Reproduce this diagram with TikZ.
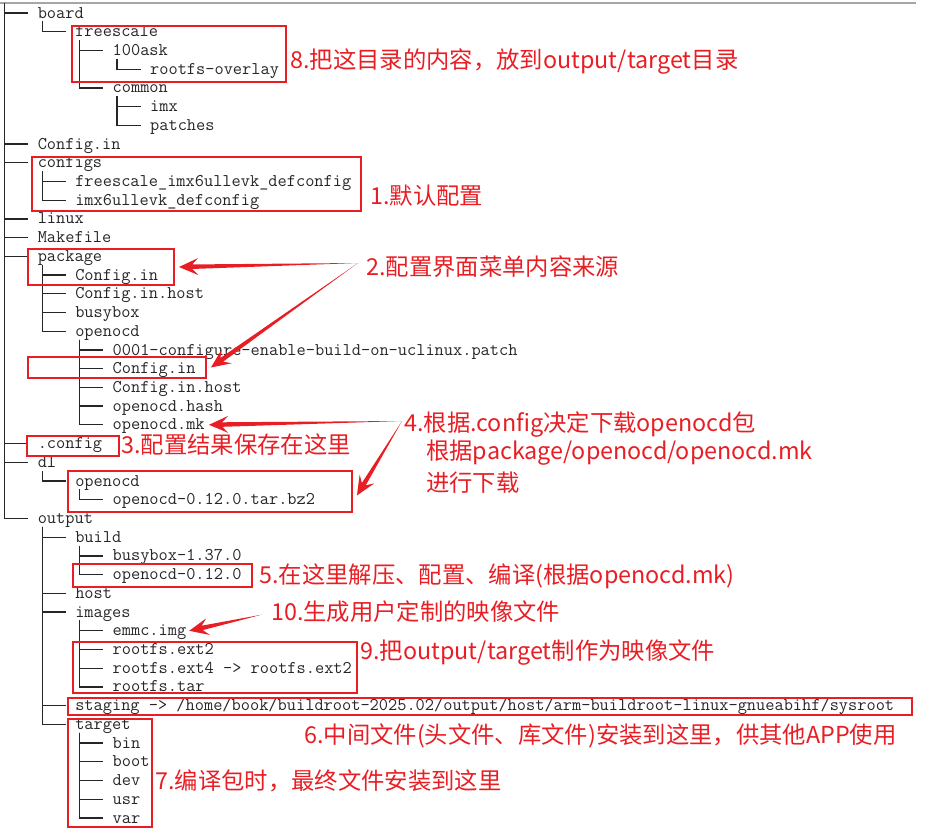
\documentclass[tikz,border=0pt]{standalone}
\usepackage{fontspec}
\newfontfamily\cjkfont{Noto Sans CJK SC}
\usetikzlibrary{calc, fit}
\definecolor{notered}{RGB}{232,30,36}

% tapered red arrow, thin at #1, head at #2
\newcommand{\swoosh}[2]{%
  \path (#1) coordinate (sw-a) (#2) coordinate (sw-b);
  \path ($(sw-b)!10pt!(sw-a)$) coordinate (sw-n) ($(sw-b)!14.5pt!(sw-a)$) coordinate (sw-w);
  \fill[fill=notered] (sw-a) -- ($(sw-n)!1.7pt!90:(sw-a)$) -- ($(sw-w)!6.4pt!90:(sw-a)$) -- (sw-b)
    -- ($(sw-w)!6.4pt!-90:(sw-a)$) -- ($(sw-n)!1.7pt!-90:(sw-a)$) -- cycle;}

\begin{document}
\begin{tikzpicture}[x=0.75pt,y=-0.75pt,
  entry/.style={anchor=base west,inner sep=0pt,text height=7.5pt,text depth=0pt,
    font=\fontsize{13.4}{14}\selectfont\ttfamily,text=black!85},
  branch/.style={line width=1pt,black!85},
  redbox/.style={draw=notered,line width=1.4pt,inner sep=0pt},
  annot/.style={anchor=west,inner sep=0pt,text=notered,font=\fontsize{17.5}{21}\selectfont\cjkfont}]
\useasboundingbox (0,0) rectangle (935,833);
\draw [gray!70,line width=0.8pt] (0,3) -- (916,3);

% the tree
\node [entry] (root) at (0,0) {};
\node [entry] (board)    at (37.5,18.0)  {board};
\node [entry] (freescale) at (75,36.7)   {freescale};
\node [entry] (ask)      at (112.4,55.4) {100ask};
\node [entry] (overlay)  at (149.9,74.2) {rootfs-overlay};
\node [entry] (common)   at (112.4,92.9) {common};
\node [entry] (imx)      at (149.9,111.6) {imx};
\node [entry] (patches)  at (149.9,130.3) {patches};
\node [entry] (cfgin)    at (37.5,149.0) {Config.in};
\node [entry] (configs)  at (37.5,167.8) {configs};
\node [entry] (fsdef)    at (75,186.5)   {freescale\_imx6ullevk\_defconfig};
\node [entry] (imxdef)   at (75,205.2)   {imx6ullevk\_defconfig};
\node [entry] (linux)    at (37.5,223.9) {linux};
\node [entry] (makefile) at (37.5,242.6) {Makefile};
\node [entry] (package)  at (37.5,261.4) {package};
\node [entry] (pkgcfg)   at (75,280.1)   {Config.in};
\node [entry] (pkghost)  at (75,298.8)   {Config.in.host};
\node [entry] (busybox)  at (75,317.5)   {busybox};
\node [entry] (openocd)  at (75,336.2)   {openocd};
\node [entry] (patch)    at (112.4,355.0) {0001-configure-enable-build-on-uclinux.patch};
\node [entry] (ocdcfg)   at (112.4,373.7) {Config.in};
\node [entry] (ocdhost)  at (112.4,392.4) {Config.in.host};
\node [entry] (hash)     at (112.4,411.1) {openocd.hash};
\node [entry] (mk)       at (112.4,429.8) {openocd.mk};
\node [entry] (dotcfg)   at (37.5,448.6) {.config};
\node [entry] (dl)       at (37.5,467.3) {dl};
\node [entry] (dlocd)    at (75,486.0)   {openocd};
\node [entry] (tarball)  at (112.4,504.7) {openocd-0.12.0.tar.bz2};
\node [entry] (output)   at (37.5,523.4) {output};
\node [entry] (build)    at (75,542.2)   {build};
\node [entry] (bbbuild)  at (112.4,560.9) {busybox-1.37.0};
\node [entry] (ocdbuild) at (112.4,579.6) {openocd-0.12.0};
\node [entry] (host)     at (75,598.3)   {host};
\node [entry] (images)   at (75,617.0)   {images};
\node [entry] (emmc)     at (112.4,635.8) {emmc.img};
\node [entry] (ext2)     at (112.4,654.5) {rootfs.ext2};
\node [entry] (ext4)     at (112.4,673.2) {rootfs.ext4 -> rootfs.ext2};
\node [entry] (tar)      at (112.4,691.9) {rootfs.tar};
\node [entry] (staging)  at (75,710.6)   {staging -> /home/book/buildroot-2025.02/output/host/arm-buildroot-linux-gnueabihf/sysroot};
\node [entry] (target)   at (75,729.4)   {target};
\node [entry] (bin)      at (112.4,748.1) {bin};
\node [entry] (boot)     at (112.4,766.8) {boot};
\node [entry] (dev)      at (112.4,785.5) {dev};
\node [entry] (usr)      at (112.4,804.2) {usr};
\node [entry] (var)      at (112.4,823.0) {var};

\foreach \p/\c in {root/board,root/cfgin,root/configs,root/linux,root/makefile,root/package,
    root/dotcfg,root/dl,root/output,board/freescale,freescale/ask,freescale/common,ask/overlay,
    common/imx,common/patches,configs/fsdef,configs/imxdef,package/pkgcfg,package/pkghost,
    package/busybox,package/openocd,openocd/patch,openocd/ocdcfg,openocd/ocdhost,openocd/hash,
    openocd/mk,dl/dlocd,dlocd/tarball,output/build,output/host,output/images,output/staging,
    output/target,build/bbbuild,build/ocdbuild,images/emmc,images/ext2,images/ext4,images/tar,
    target/bin,target/boot,target/dev,target/usr,target/var}
  \draw [branch] ([xshift=3.5pt,yshift=-2.5pt]\p.base west) |- ([xshift=-7pt]\c.west);

% red frames
\node [redbox,fit={(72,26) (286,82)}]    (boxA) {};
\node [redbox,fit={(32,157) (361,211)}]  (boxB) {};
\node [redbox,fit={(28,249) (174,285)}]  (boxC) {};
\node [redbox,fit={(28,357) (206,378)}]  (boxD) {};
\node [redbox,fit={(27,436) (119,456)}]  (boxE) {};
\node [redbox,fit={(68,471) (352,512)}]  (boxF) {};
\node [redbox,fit={(73,564) (252,587)}]  (boxG) {};
\node [redbox,fit={(73,642) (357,693)}]  (boxH) {};
\node [redbox,fit={(68,698) (912,715)}]  (boxI) {};
\node [redbox,fit={(68,719) (152,827)}]  (boxJ) {};

% notes
\node [annot] (lab8)  at (290,62)  {8.把这目录的内容，放到output/target目录};
\node [annot] (lab1)  at (370,196) {1.默认配置};
\node [annot] (lab2)  at (366,267) {2.配置界面菜单内容来源};
\node [annot] (lab4)  at (404,425) {4.根据.config决定下载openocd包};
\node [annot] (lab4b) at (426,453) {根据package/openocd/openocd.mk};
\node [annot] (lab4c) at (426,483) {进行下载};
\node [annot] (lab3)  at (121,445) {3.配置结果保存在这里};
\node [annot] (lab5)  at (259,576) {5.在这里解压、配置、编译(根据openocd.mk)};
\node [annot] (lab10) at (271,612) {10.生成用户定制的映像文件};
\node [annot] (lab9)  at (360,653) {9.把output/target制作为映像文件};
\node [annot] (lab6)  at (304,736) {6.中间文件(头文件、库文件)安装到这里，供其他APP使用};
\node [annot] (lab7)  at (155,781) {7.编译包时，最终文件安装到这里};

\swoosh{[xshift=-6pt,yshift=3pt]lab2.west}{[xshift=3pt]boxC.east}
\swoosh{[xshift=-6pt,yshift=3pt]lab2.west}{[xshift=3pt]boxD.east}
\swoosh{[xshift=-1.5pt,yshift=3pt]lab4.west}{[xshift=3pt]mk.east}
\swoosh{[xshift=-1.5pt,yshift=3pt]lab4.west}{[xshift=3pt,yshift=-3pt]boxF.east}
\swoosh{[xshift=-7pt,yshift=-2pt]lab10.west}{[xshift=2pt]emmc.east}
\end{tikzpicture}
\end{document}
